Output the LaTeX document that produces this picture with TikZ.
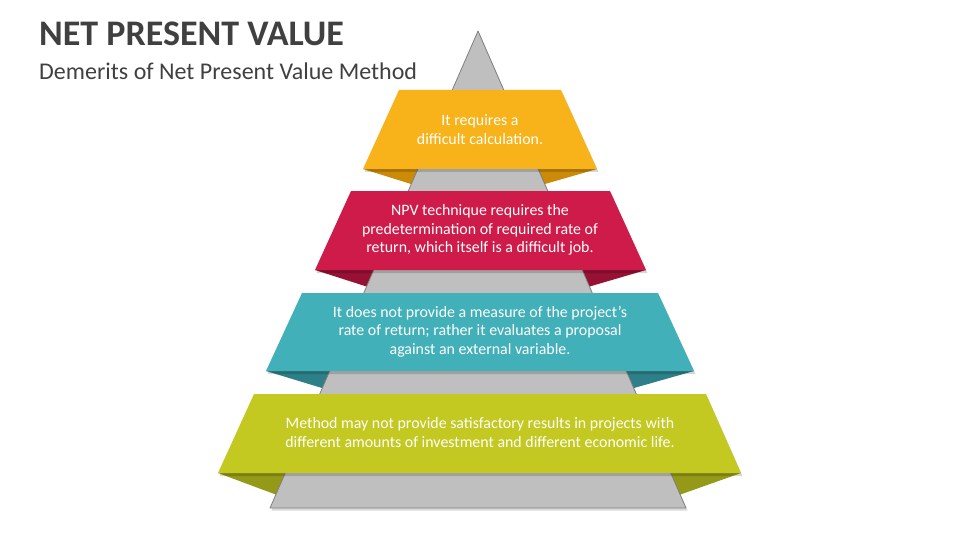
\documentclass[tikz,border=0pt]{standalone}
\usepackage{fontspec}
\setmainfont{Carlito}
\definecolor{titlegrey}{RGB}{64,64,64}
\definecolor{pyrgrey}{RGB}{191,191,191}
\definecolor{pyredge}{RGB}{128,128,128}
\definecolor{bandyellow}{RGB}{248,178,26}
\definecolor{tabyellow}{RGB}{203,138,8}
\definecolor{bandred}{RGB}{206,27,74}
\definecolor{tabred}{RGB}{150,17,52}
\definecolor{bandteal}{RGB}{66,176,184}
\definecolor{tabteal}{RGB}{46,128,136}
\definecolor{bandgreen}{RGB}{195,201,33}
\definecolor{tabgreen}{RGB}{148,153,24}

\tikzset{
  bandshadow/.style={fill=black,opacity=0.16,shift={(1.5,3)}},
  bandtext/.style={text=white,font=\fontsize{15.9}{18.6}\selectfont,align=center,inner sep=0pt},
}

\begin{document}
\begin{tikzpicture}[x=1pt,y=-1pt,line join=round]
\useasboundingbox (0,0) rectangle (960,540);
% title
\node[anchor=base west,inner sep=0pt,text=titlegrey,font=\fontsize{36}{40}\selectfont\bfseries] (title) at (39,46) {NET PRESENT VALUE};
\node[anchor=base west,inner sep=0pt,text=titlegrey,font=\fontsize{24}{28}\selectfont] (subtitle) at (39,80) {Demerits of Net Present Value Method};
% folded ends behind the pyramid
\fill[tabyellow] (363,169) -- (411,184) -- (432,169) -- cycle;
\fill[tabyellow] (597,169) -- (545,184) -- (524,169) -- cycle;
\fill[tabred] (315,270) -- (368,287) -- (392,270) -- cycle;
\fill[tabred] (646,270) -- (588,287) -- (564,270) -- cycle;
\fill[tabteal] (266,371) -- (322,388) -- (346,371) -- cycle;
\fill[tabteal] (694,371) -- (634,388) -- (610,371) -- cycle;
\fill[tabgreen] (218,473) -- (277,495) -- (300,473) -- cycle;
\fill[tabgreen] (741,473) -- (679,495) -- (656,473) -- cycle;
% pyramid
\fill[black,opacity=0.15,shift={(1.5,2.5)}] (478,31) -- (686,508) -- (270,508) -- cycle;
\filldraw[fill=pyrgrey,draw=pyredge,line width=0.8pt] (478,31) -- (686,508) -- (270,508) -- cycle;
% bands
\fill[bandshadow] (399,90) -- (561,90) -- (597,169) -- (363,169) -- cycle;
\fill[bandyellow] (399,90) -- (561,90) -- (597,169) -- (363,169) -- cycle;
\node[bandtext] (lvlone) at (480,129.5) {It requires a\\difficult calculation.};
\fill[bandshadow] (351,191) -- (610,191) -- (646,270) -- (315,270) -- cycle;
\fill[bandred] (351,191) -- (610,191) -- (646,270) -- (315,270) -- cycle;
\node[bandtext] (lvltwo) at (480,230) {NPV technique requires the\\predetermination of required rate of\\return, which itself is a difficult job.};
\fill[bandshadow] (302,293) -- (658,293) -- (694,371) -- (266,371) -- cycle;
\fill[bandteal] (302,293) -- (658,293) -- (694,371) -- (266,371) -- cycle;
\node[bandtext] (lvlthree) at (480,331.5) {It does not provide a measure of the project’s\\rate of return; rather it evaluates a proposal\\against an external variable.};
\fill[bandshadow] (254,394) -- (706,394) -- (741,473) -- (218,473) -- cycle;
\fill[bandgreen] (254,394) -- (706,394) -- (741,473) -- (218,473) -- cycle;
\node[bandtext] (lvlfour) at (480,432.5) {Method may not provide satisfactory results in projects with\\different amounts of investment and different economic life.};
\end{tikzpicture}
\end{document}
